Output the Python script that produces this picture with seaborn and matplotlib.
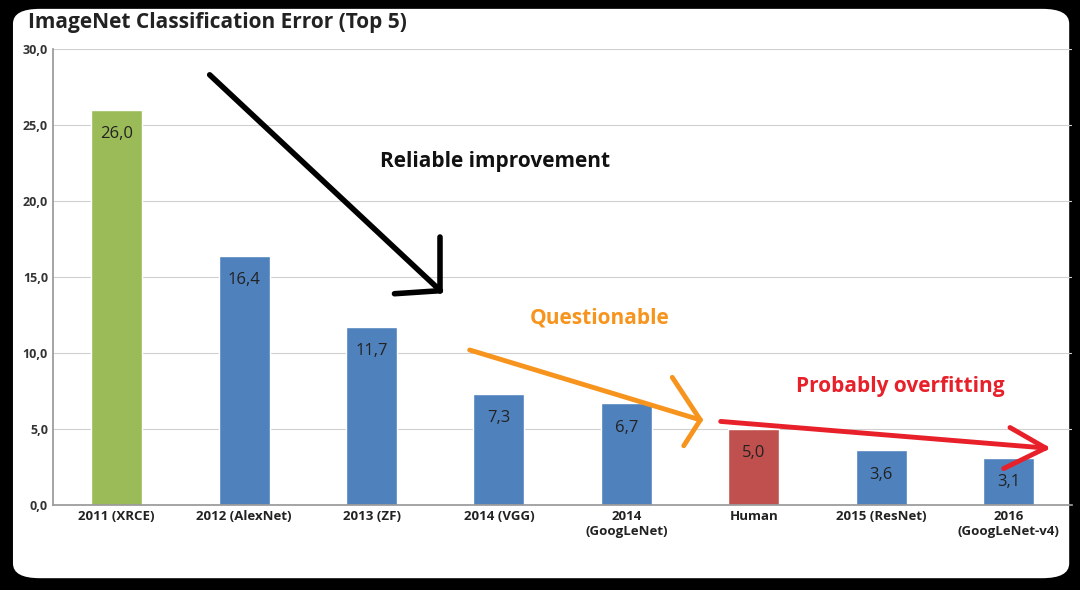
import matplotlib
matplotlib.use("Agg")
import matplotlib.pyplot as plt
import seaborn as sns
import pandas as pd
from matplotlib.patches import FancyBboxPatch

sns.set_theme(style="white")
plt.rcParams['font.family'] = ['Open Sans', 'DejaVu Sans']

categories = ['2011 (XRCE)', '2012 (AlexNet)', '2013 (ZF)', '2014 (VGG)',
              '2014\n(GoogLeNet)', 'Human', '2015 (ResNet)', '2016\n(GoogLeNet-v4)']
errors = [26.0, 16.4, 11.7, 7.3, 6.7, 5.0, 3.6, 3.1]
colors = ['#9BBB59', '#4F81BD', '#4F81BD', '#4F81BD', '#4F81BD', '#C0504D', '#4F81BD', '#4F81BD']

df = pd.DataFrame({'model': categories, 'error': errors})

fig = plt.figure(figsize=(10.8, 5.9), dpi=100, facecolor='black')

# white rounded panel on a background axes
bg = fig.add_axes([0, 0, 1, 1], zorder=-1)
bg.set_xlim(0, 1)
bg.set_ylim(0, 1)
bg.axis('off')
bg.add_patch(FancyBboxPatch((0.012, 0.02), 0.978, 0.965, boxstyle="round,pad=0,rounding_size=0.025",
                            facecolor='white', edgecolor='none'))

ax = fig.add_axes([0.049, 0.144, 0.944, 0.773], zorder=1)
ax.set_facecolor('none')
sns.barplot(data=df, x='model', y='error', hue='model', palette=colors, legend=False,
            width=0.4, saturation=1, ax=ax, zorder=2)

ax.set_ylim(0, 30)
ax.set_xlim(-0.5, 7.5)
ax.set_yticks(range(0, 31, 5))
ax.set_yticklabels([f"{v},0" for v in range(0, 31, 5)], fontsize=9, fontweight='bold', color='#333333')
ax.set_xticks(range(len(categories)))
ax.set_xticklabels(categories, fontsize=9.5, fontweight='bold', color='#222222')
ax.set_xlabel('')
ax.set_ylabel('')
ax.grid(axis='y', color='#d0d0d0', linewidth=0.8, zorder=0)
ax.set_axisbelow(True)
for s in ['top', 'right']:
    ax.spines[s].set_visible(False)
ax.spines['left'].set_color('#999999')
ax.spines['bottom'].set_color('#999999')
ax.tick_params(axis='both', length=0)

for i, v in enumerate(errors):
    ax.text(i, v - 1.6, f"{v:.1f}".replace('.', ','), ha='center', va='center', fontsize=12, color='#222222')

fig.text(0.026, 0.962, 'ImageNet Classification Error (Top 5)', fontsize=15, fontweight='bold',
         color='#222222', va='center')

# hand-drawn arrows
ax.plot([0.73, 2.54], [28.3, 14.1], color='black', lw=4, solid_capstyle='round', clip_on=False)
ax.plot([2.54, 2.54], [17.6, 14.1], color='black', lw=4, solid_capstyle='round')
ax.plot([2.18, 2.54], [13.9, 14.1], color='black', lw=4, solid_capstyle='round')
ax.text(2.07, 22.6, 'Reliable improvement', fontsize=15, fontweight='bold', color='#111111', va='center')

orange = '#F7941D'
ax.plot([2.77, 4.58], [10.2, 5.6], color=orange, lw=3.5, solid_capstyle='round')
ax.plot([4.36, 4.58], [8.4, 5.6], color=orange, lw=3.5, solid_capstyle='round')
ax.plot([4.45, 4.58], [3.9, 5.6], color=orange, lw=3.5, solid_capstyle='round')
ax.text(3.79, 12.3, 'Questionable', fontsize=15, fontweight='bold', color=orange, ha='center', va='center')

red = '#E8202A'
ax.plot([4.74, 7.29], [5.5, 3.75], color=red, lw=3.5, solid_capstyle='round', zorder=3)
ax.plot([7.01, 7.29], [5.1, 3.75], color=red, lw=3.5, solid_capstyle='round', zorder=3)
ax.plot([6.96, 7.29], [2.4, 3.75], color=red, lw=3.5, solid_capstyle='round', zorder=3)
ax.text(6.15, 7.8, 'Probably overfitting', fontsize=15, fontweight='bold', color=red, ha='center', va='center')

fig.savefig('out.png', dpi=100, facecolor=fig.get_facecolor())
